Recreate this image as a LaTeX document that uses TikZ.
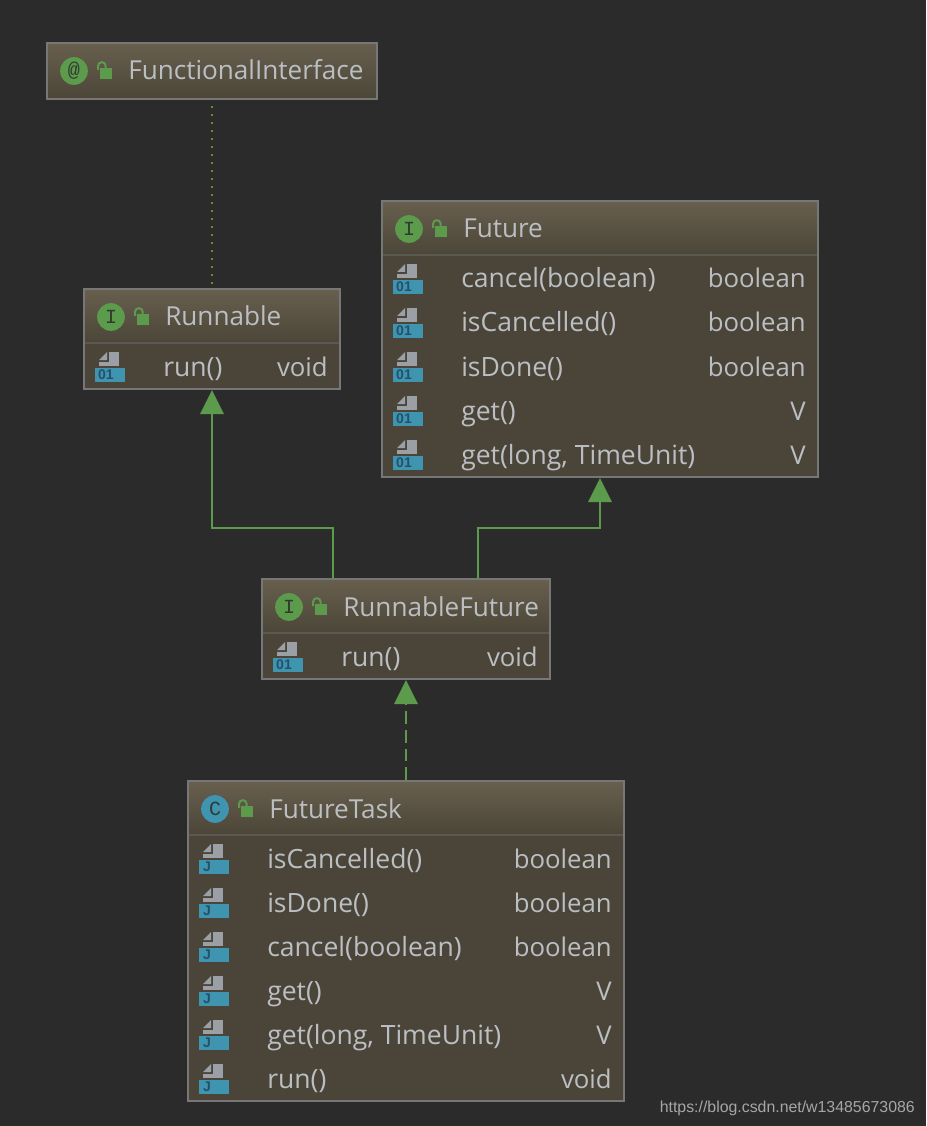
\documentclass[tikz,border=0pt]{standalone}
\usepackage{fontspec}
\setmainfont{Open Sans}
\newfontfamily\iconfont{Liberation Mono}
\newfontfamily\urlfont{Liberation Sans}
\usetikzlibrary{arrows.meta}
\definecolor{bgc}{HTML}{2B2B2B}
\definecolor{bodyc}{HTML}{4A4538}
\definecolor{headtop}{HTML}{685F4E}
\definecolor{headbot}{HTML}{4B4638}
\definecolor{edgec}{HTML}{777777}
\definecolor{sepc}{HTML}{5A5850}
\definecolor{txtc}{HTML}{BBBFC4}
\definecolor{grn}{HTML}{5C9A4C}
\definecolor{blu}{HTML}{3F94B0}
\definecolor{gryi}{HTML}{9AA0A6}
\definecolor{dk}{HTML}{2F3A30}
\definecolor{tagc}{HTML}{25506A}
\definecolor{urlc}{HTML}{A6A6A6}
\definecolor{dotc}{HTML}{6F8A22}
\tikzset{
  umlbox/.style={draw=edgec,line width=1.5pt,fill=none,inner sep=0pt,outer sep=0pt,anchor=north west},
  titletext/.style={text=txtc,anchor=base west,inner sep=0pt,font=\fontsize{19.6}{22}\selectfont},
  rowtext/.style={text=txtc,anchor=base west,inner sep=0pt,font=\fontsize{19.9}{22}\selectfont},
  rettext/.style={text=txtc,anchor=base east,inner sep=0pt,font=\fontsize{19.3}{22}\selectfont},
  inherit/.style={draw=grn,line width=1.8pt,-{Triangle[length=18pt,width=17.5pt,fill=grn]}},
  impl/.style={inherit,dash pattern=on 9.5pt off 4.5pt},
  annot/.style={draw=dotc,line width=1.5pt,dash pattern=on 1.5pt off 4.5pt},
}
% #1 name, #2 x, #3 y, #4 x2, #5 y2, #6 header bottom
\newcommand{\umlbg}[6]{%
  \fill[bodyc] (#2,#3) rectangle (#4,#5);
  \shade[top color=headtop,bottom color=headbot] (#2,#3) rectangle (#4,#6);
  \draw[sepc,line width=1.7pt] (#2,#6) -- (#4,#6);
  \pgfmathsetlengthmacro{\bw}{(#4-#2)*0.75pt}%
  \pgfmathsetlengthmacro{\bh}{(#5-#3)*0.75pt}%
  \node[umlbox,minimum width=\bw,minimum height=\bh] (#1) at (#2,#3) {};
}
% #1 name, #2 box x, #3 baseline y, #4 colour, #5 letter, #6 title
\newcommand{\umltitle}[6]{%
  \fill[#4] ({#2+27},{#3-9}) circle (10.4pt);
  \node[inner sep=0pt,text=dk,font=\iconfont\fontsize{15}{15}\selectfont] (#1icon) at ({#2+27},{#3-9}) {#5};
  \fill[grn] ({#2+53},{#3-12}) rectangle ({#2+65},{#3-1});
  \draw[grn,line width=1.5pt] ({#2+51},{#3-10}) -- ({#2+51},{#3-14}) arc (180:0:2.9pt) -- ({#2+58.7},{#3-12});
  \node[titletext] (#1title) at ({#2+81},#3) {#6};
}
% #1 name, #2 box x, #3 row top y, #4 box x2, #5 tag, #6 method, #7 type
\newcommand{\umlrow}[7]{%
  \fill[gryi] ({#2+15},{#3+17}) -- ({#2+23},{#3+9}) -- ({#2+23},{#3+17}) -- cycle;
  \fill[gryi] ({#2+25},{#3+9}) rectangle ({#2+35},{#3+23});
  \fill[gryi] ({#2+15},{#3+19}) rectangle ({#2+35},{#3+23});
  \fill[blu] ({#2+11},{#3+25}) rectangle ({#2+41},{#3+39});
  \node[inner sep=0pt,text=tagc,font=\urlfont\bfseries\fontsize{10.5}{10}\selectfont] (#1tag) at ({#2+(#5==1?22:19)},{#3+32}) {\ifnum#5=1 01\else J\fi};
  \node[rowtext] (#1m) at ({#2+79},{#3+33}) {#6};
  \node[rettext] (#1r) at ({#4-12},{#3+33}) {#7};
}
\begin{document}
\begin{tikzpicture}[x=0.75pt,y=-0.75pt]
\useasboundingbox (0,0) rectangle (926,1126);
\fill[bgc] (0,0) rectangle (926,1126);
% Functional interface
\umlbg{fi}{47}{43}{377}{99}{99}
\umltitle{fi}{47}{80}{grn}{@}{FunctionalInterface}
% Future
\umlbg{future}{382}{201}{818}{477}{255}
\umltitle{future}{382}{238}{grn}{I}{Future}
\umlrow{fa}{382}{255}{818}{1}{cancel(boolean)}{boolean}
\umlrow{fb}{382}{299}{818}{1}{isCancelled()}{boolean}
\umlrow{fc}{382}{343}{818}{1}{isDone()}{boolean}
\umlrow{fd}{382}{387}{818}{1}{get()}{V}
\umlrow{fe}{382}{431}{818}{1}{get(long, TimeUnit)}{V}
% Runnable
\umlbg{runnable}{84}{289}{340}{389}{343}
\umltitle{runnable}{84}{326}{grn}{I}{Runnable}
\umlrow{ra}{84}{343}{340}{1}{run()}{void}
% RunnableFuture
\umlbg{rf}{262}{579}{550}{679}{633}
\umltitle{rf}{262}{616}{grn}{I}{RunnableFuture}
\umlrow{rfa}{262}{633}{550}{1}{run()}{void}
% FutureTask
\umlbg{ft}{188}{781}{624}{1101}{835}
\umltitle{ft}{188}{818}{blu}{C}{FutureTask}
\umlrow{ta}{188}{835}{624}{0}{isCancelled()}{boolean}
\umlrow{tb}{188}{879}{624}{0}{isDone()}{boolean}
\umlrow{tc}{188}{923}{624}{0}{cancel(boolean)}{boolean}
\umlrow{td}{188}{967}{624}{0}{get()}{V}
\umlrow{te}{188}{1011}{624}{0}{get(long, TimeUnit)}{V}
\umlrow{tf}{188}{1055}{624}{0}{run()}{void}
% Connectors
\coordinate (fiout) at (212,106);
\coordinate (runin) at (212,285);
\draw[annot] (fiout) -- (runin);
\coordinate (rfl) at (333,578);
\coordinate (rfr) at (478,578);
\coordinate (runb) at (212,390);
\coordinate (futb) at (600,478);
\coordinate (rfb) at (406,680);
\coordinate (ftt) at (406,780);
\draw[inherit] (rfl) -- (333,528) -- (212,528) -- (runb);
\draw[inherit] (rfr) -- (478,528) -- (600,528) -- (futb);
\draw[impl] (ftt) -- (rfb);
\node[anchor=base east,inner sep=0pt,text=urlc,font=\urlfont\fontsize{11.9}{14}\selectfont] (wm) at (915,1112) {https://blog.csdn.net/w13485673086};
\end{tikzpicture}
\end{document}
